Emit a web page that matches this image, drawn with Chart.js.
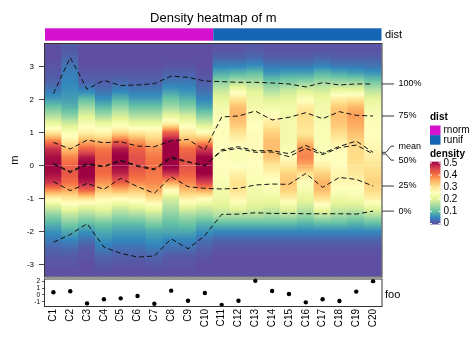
<!DOCTYPE html>
<html>
<head>
<meta charset="utf-8">
<script src="https://cdn.jsdelivr.net/npm/chart.js@4.4.1/dist/chart.umd.min.js"></script>
<style>
  html, body { margin: 0; padding: 0; background: #fff; }
  #wrap { position: relative; width: 474px; height: 338px; }
  #wrap canvas { position: absolute; left: 0; top: 0; }
</style>
</head>
<body>
<div id="wrap">
  <canvas id="heat" width="474" height="338"></canvas>
  <canvas id="foo" width="474" height="338"></canvas>
</div>
<script>
// ---- data -------------------------------------------------------------
const columns = ['C1','C2','C3','C4','C5','C6','C7','C8','C9','C10',
                 'C11','C12','C13','C14','C15','C16','C17','C18','C19','C20'];
const distGroup = ['rnorm','rnorm','rnorm','rnorm','rnorm','rnorm','rnorm','rnorm','rnorm','rnorm',
                   'runif','runif','runif','runif','runif','runif','runif','runif','runif','runif'];
const distLevels = ['rnorm', 'runif'];
const distColors = { rnorm: '#D412CE', runif: '#1565B4' };

// value range covered by the density estimates
const mRange = [-3.36, 3.68];
const mTicks = [-3, -2, -1, 0, 1, 2, 3];

// grid of m values where each column's density was evaluated
const densityGridM = [-3.25, -3.0, -2.75, -2.5, -2.25, -2.0, -1.75, -1.5, -1.25, -1.0,
                      -0.75, -0.5, -0.25, 0, 0.25, 0.5, 0.75, 1.0, 1.25, 1.5,
                      1.75, 2.0, 2.25, 2.5, 2.75, 3.0, 3.25, 3.5];

// density per column (one row per column, bottom to top along densityGridM)
const columnDensity = [
  [0,.005,.01,.02,.04,.06,.09,.13,.19,.27,.38,.47,.50,.51,.50,.47,.39,.29,.22,.16,.11,.07,.04,.02,.01,.005,0,0],
  [0,.005,.01,.025,.05,.08,.12,.17,.23,.29,.36,.41,.43,.42,.39,.34,.28,.24,.19,.13,.09,.07,.06,.05,.045,.035,.02,.01],
  [0,0,.005,.01,.03,.06,.10,.15,.21,.30,.42,.49,.52,.52,.49,.42,.35,.28,.24,.20,.15,.10,.05,.02,.01,0,0,0],
  [0,.01,.02,.04,.06,.08,.11,.17,.22,.27,.33,.38,.41,.42,.42,.40,.34,.27,.22,.15,.10,.06,.03,.015,.01,0,0,0],
  [0,.005,.015,.03,.05,.07,.10,.14,.19,.26,.35,.43,.48,.51,.52,.49,.41,.31,.24,.19,.14,.09,.05,.025,.01,0,0,0],
  [0,.005,.015,.03,.05,.07,.10,.15,.21,.27,.33,.39,.42,.44,.44,.42,.37,.29,.22,.16,.11,.07,.04,.02,.01,0,0,0],
  [0,.01,.02,.04,.06,.08,.12,.17,.23,.30,.36,.39,.40,.41,.40,.38,.33,.28,.22,.16,.11,.07,.04,.02,.01,0,0,0],
  [0,.005,.01,.03,.05,.08,.10,.13,.16,.19,.26,.37,.47,.52,.53,.53,.50,.42,.29,.21,.15,.11,.07,.04,.02,.005,0,0],
  [0,.005,.01,.03,.05,.08,.11,.15,.21,.28,.34,.39,.42,.44,.43,.41,.35,.29,.24,.19,.13,.09,.06,.04,.02,.005,0,0],
  [0,0,.005,.015,.03,.06,.09,.14,.19,.26,.36,.46,.51,.52,.51,.46,.36,.26,.19,.13,.08,.05,.03,.015,.005,0,0,0],
  [0,0,0,.005,.02,.05,.10,.16,.20,.22,.23,.24,.25,.25,.25,.25,.25,.25,.25,.24,.23,.21,.18,.14,.09,.05,.02,.005],
  [0,0,0,.005,.02,.05,.10,.16,.22,.27,.30,.30,.28,.25,.24,.25,.27,.30,.33,.35,.34,.30,.24,.17,.10,.05,.02,.005],
  [0,0,0,.005,.02,.05,.10,.16,.20,.22,.23,.24,.25,.25,.26,.26,.26,.26,.25,.24,.23,.22,.20,.16,.11,.06,.025,.01],
  [0,0,0,.005,.02,.05,.10,.15,.19,.22,.24,.25,.27,.30,.33,.34,.34,.32,.29,.26,.23,.20,.16,.12,.07,.04,.015,.005],
  [0,0,0,.005,.02,.05,.10,.16,.22,.28,.32,.33,.32,.29,.26,.24,.23,.23,.23,.23,.23,.21,.18,.13,.08,.04,.015,.005],
  [0,0,0,.005,.02,.05,.09,.14,.18,.21,.23,.25,.30,.36,.39,.38,.33,.29,.30,.31,.29,.25,.20,.14,.08,.04,.015,.005],
  [0,0,0,.005,.02,.05,.10,.17,.24,.30,.34,.35,.32,.28,.25,.24,.24,.24,.24,.23,.23,.22,.19,.15,.10,.05,.02,.005],
  [0,0,0,.005,.02,.05,.10,.15,.19,.22,.25,.27,.27,.26,.25,.26,.28,.31,.33,.34,.33,.29,.22,.15,.09,.04,.015,.005],
  [0,0,0,.005,.02,.05,.09,.14,.19,.23,.25,.27,.29,.30,.31,.31,.32,.34,.36,.37,.35,.30,.22,.15,.08,.04,.015,.005],
  [0,0,0,.005,.02,.05,.10,.16,.22,.28,.31,.32,.31,.30,.28,.27,.26,.25,.25,.24,.23,.21,.17,.12,.07,.035,.015,.005]
];

// per-column summaries
const q100    = [2.18, 3.27, 2.31, 2.58, 2.42, 2.44, 2.48, 2.71, 2.67, 2.56, 2.54, 2.52, 2.52, 2.50, 2.47, 2.38, 2.51, 2.44, 2.47, 2.47];
const q75     = [0.70, 0.50, 0.77, 0.69, 0.72, 0.59, 0.57, 0.75, 0.79, 0.47, 1.47, 1.50, 1.65, 1.38, 1.46, 1.60, 1.42, 1.63, 1.52, 1.50];
const colMean = [0.06, -0.18, 0.06, -0.02, 0.16, 0.00, -0.10, 0.26, 0.12, -0.01, 0.48, 0.57, 0.45, 0.45, 0.36, 0.61, 0.37, 0.58, 0.74, 0.40];
const q50     = [0.04, -0.21, 0.03, -0.04, 0.14, -0.03, -0.13, 0.22, 0.10, 0.00, 0.44, 0.52, 0.40, 0.41, 0.27, 0.52, 0.33, 0.54, 0.62, 0.35];
const q25     = [-0.49, -0.76, -0.54, -0.72, -0.39, -0.64, -0.84, -0.34, -0.64, -0.69, -0.71, -0.69, -0.59, -0.56, -0.57, -0.24, -0.66, -0.36, -0.42, -0.62];
const q0      = [-2.32, -2.09, -1.76, -2.47, -2.66, -2.77, -2.74, -2.22, -2.52, -2.12, -1.48, -1.47, -1.43, -1.45, -1.45, -1.46, -1.46, -1.46, -1.47, -1.38];

// bottom annotation
const fooValues = [0.40, 0.54, -1.22, -0.63, -0.49, -0.15, -1.28, 0.63, -0.84, 0.29,
                   -1.43, -0.84, 2.06, 0.59, 0.15, -1.07, -0.63, -0.88, 0.49, 2.01];
const fooRange = [-1.6, 2.25];
const fooTicks = [-1, 0, 1, 2];

// density colour scale
const densityMax = 0.51;
const densityTicks = [0, 0.1, 0.2, 0.3, 0.4, 0.5];
const spectralRev = ['#5E4FA2','#3288BD','#66C2A5','#ABDDA4','#E6F598','#FFFFBF',
                     '#FEE08B','#FDAE61','#F46D43','#D53E4F','#9E0142'];

// ---- helpers ----------------------------------------------------------
const FONT = "'Liberation Sans', Arial, Helvetica, sans-serif";
Chart.defaults.font.family = FONT;
Chart.defaults.color = '#000';

function hexRgb(h) {
  return [parseInt(h.slice(1, 3), 16), parseInt(h.slice(3, 5), 16), parseInt(h.slice(5, 7), 16)];
}
const spectralRgb = spectralRev.map(hexRgb);

function densityColor(v) {
  const n = spectralRgb.length - 1;
  const t = Math.max(0, Math.min(1, v / densityMax)) * n;
  const i = Math.min(Math.floor(t), n - 1);
  const f = t - i;
  const a = spectralRgb[i], b = spectralRgb[i + 1];
  const c = a.map((ch, k) => Math.round(ch + (b[k] - ch) * f));
  return `rgb(${c[0]},${c[1]},${c[2]})`;
}

// segment edges along m: range start, grid points, range end
const segEdges = [mRange[0], ...densityGridM, mRange[1]];
function edgeDensity(col, e) {
  const k = Math.max(0, Math.min(densityGridM.length - 1, e - 1));
  return columnDensity[col][k];
}

function segmentFill(ctx, s) {
  if (ctx.type !== 'data') return densityColor(0);
  const chart = ctx.chart;
  const col = ctx.dataIndex;
  const d0 = edgeDensity(col, s), d1 = edgeDensity(col, s + 1);
  const y = chart.scales.y;
  if (!chart.chartArea || !y) return densityColor((d0 + d1) / 2);
  const p0 = y.getPixelForValue(segEdges[s]);
  const p1 = y.getPixelForValue(segEdges[s + 1]);
  if (!isFinite(p0) || !isFinite(p1) || p0 === p1) return densityColor((d0 + d1) / 2);
  const g = chart.ctx.createLinearGradient(0, p0, 0, p1);
  for (let t = 0; t <= 4; t++) g.addColorStop(t / 4, densityColor(d0 + (d1 - d0) * t / 4));
  return g;
}

// ---- heatmap ----------------------------------------------------------
const heatSets = [];
for (let s = 0; s < segEdges.length - 1; s++) {
  heatSets.push({
    type: 'bar',
    order: 2,
    data: columns.map(() => [segEdges[s], segEdges[s + 1]]),
    backgroundColor: (ctx) => segmentFill(ctx, s),
    borderWidth: 0,
    inflateAmount: 0.5,
    barPercentage: 1,
    categoryPercentage: 1,
    grouped: false
  });
}

const dashed = {
  type: 'line', order: 0, borderColor: '#111', borderWidth: 1, borderDash: [5, 3],
  pointRadius: 0, fill: false, tension: 0
};
const lineSets = [
  { ...dashed, label: '100%', data: q100 },
  { ...dashed, label: '75%', data: q75 },
  { ...dashed, label: 'mean', data: colMean },
  { ...dashed, label: '50%', data: q50 },
  { ...dashed, label: '25%', data: q25 },
  { ...dashed, label: '0%', data: q0 }
];

const heatDecor = {
  id: 'heatDecor',
  afterDatasetsDraw(chart) {
    const { ctx, chartArea: a, scales: { x, y } } = chart;
    ctx.save();

    // body border
    ctx.strokeStyle = '#333';
    ctx.lineWidth = 1;
    ctx.strokeRect(a.left - 0.5, a.top - 0.5, a.right - a.left + 1, a.bottom - a.top + 1);

    // title
    ctx.fillStyle = '#000';
    ctx.font = `13px ${FONT}`;
    ctx.textAlign = 'center';
    ctx.textBaseline = 'alphabetic';
    ctx.fillText('Density heatmap of m', (a.left + a.right) / 2, 21.7);

    // dist annotation row
    const step = x.getPixelForValue(1) - x.getPixelForValue(0);
    let start = 0;
    for (let i = 1; i <= columns.length; i++) {
      if (i === columns.length || distGroup[i] !== distGroup[start]) {
        const x0 = x.getPixelForValue(start) - step / 2;
        const x1 = x.getPixelForValue(i - 1) + step / 2;
        ctx.fillStyle = distColors[distGroup[start]];
        ctx.fillRect(x0, 28.3, x1 - x0, 12.4);
        start = i;
      }
    }
    ctx.fillStyle = '#000';
    ctx.font = `11px ${FONT}`;
    ctx.textAlign = 'left';
    ctx.textBaseline = 'middle';
    ctx.fillText('dist', a.right + 3.5, 34.5);

    // quantile labels at the right end of the lines
    const last = columns.length - 1;
    const marks = lineSets.map(d => ({ text: d.label, py: y.getPixelForValue(d.data[last]) }));
    marks.forEach(m => { m.ly = m.py; });
    marks.sort((p, q) => p.py - q.py);
    for (let pass = 0; pass < 30; pass++) {
      for (let i = 1; i < marks.length; i++) {
        const gap = marks[i].ly - marks[i - 1].ly;
        if (gap < 14) {
          const d = (14 - gap) / 2;
          marks[i].ly += d;
          marks[i - 1].ly -= d;
        }
      }
    }
    ctx.strokeStyle = '#222';
    ctx.lineWidth = 0.9;
    ctx.font = `9px ${FONT}`;
    marks.forEach(m => {
      ctx.beginPath();
      ctx.moveTo(a.right + 0.5, m.py);
      ctx.lineTo(a.right + 4.5, m.py);
      ctx.lineTo(a.right + 9.5, m.ly);
      ctx.lineTo(a.right + 12.5, m.ly);
      ctx.stroke();
      ctx.fillText(m.text, a.right + 17, m.ly);
    });

    // legends
    const lx = 430;
    ctx.font = `bold 10px ${FONT}`;
    ctx.fillText('dist', lx, 117);
    distLevels.forEach((lev, i) => {
      ctx.fillStyle = distColors[lev];
      ctx.fillRect(lx, 125.5 + i * 9.6, 10.5, 9.6);
      ctx.fillStyle = '#000';
      ctx.font = `10px ${FONT}`;
      ctx.fillText(lev, lx + 13.5, 130.5 + i * 9.6);
    });
    ctx.font = `bold 10px ${FONT}`;
    ctx.fillText('density', lx, 154.5);

    const barY = v => 223.5 - v * 121.2;
    const top = barY(densityMax), bottom = barY(0) + 1;
    const g = ctx.createLinearGradient(0, barY(0), 0, top);
    for (let t = 0; t <= 20; t++) g.addColorStop(t / 20, densityColor(densityMax * t / 20));
    ctx.fillStyle = g;
    ctx.fillRect(lx, top, 10.5, bottom - top);
    ctx.strokeStyle = '#fff';
    ctx.lineWidth = 1;
    ctx.fillStyle = '#000';
    ctx.font = `10px ${FONT}`;
    densityTicks.forEach(v => {
      const py = barY(v);
      ctx.beginPath();
      ctx.moveTo(lx, py); ctx.lineTo(lx + 2, py);
      ctx.moveTo(lx + 8.5, py); ctx.lineTo(lx + 10.5, py);
      ctx.stroke();
      ctx.fillText(String(v), lx + 13.5, py);
    });

    ctx.restore();
  }
};

new Chart(document.getElementById('heat'), {
  type: 'bar',
  data: { labels: columns, datasets: [...lineSets, ...heatSets] },
  options: {
    responsive: false,
    animation: false,
    devicePixelRatio: 1,
    events: [],
    layout: { padding: { top: 44, right: 92.5, bottom: 61.5, left: 0 } },
    plugins: { legend: { display: false }, tooltip: { enabled: false } },
    scales: {
      x: { type: 'category', display: false, offset: true },
      y: {
        type: 'linear',
        min: mRange[0],
        max: mRange[1],
        afterBuildTicks(s) { s.ticks = mTicks.map(v => ({ value: v })); },
        afterFit(s) { s.width = 45; },
        border: { display: false },
        grid: { drawOnChartArea: false, drawTicks: true, tickLength: 6, color: '#333', lineWidth: 0.9 },
        ticks: { font: { size: 8 }, color: '#000', padding: 5, autoSkip: false, callback: v => String(v) },
        title: { display: true, text: 'm', font: { size: 11 }, color: '#000', padding: { top: 8, bottom: 0 } }
      }
    }
  },
  plugins: [heatDecor]
});

// ---- bottom point annotation -----------------------------------------
const fooDecor = {
  id: 'fooDecor',
  afterDatasetsDraw(chart) {
    const { ctx, chartArea: a } = chart;
    ctx.save();
    ctx.strokeStyle = '#333';
    ctx.lineWidth = 1;
    ctx.strokeRect(a.left - 0.5, a.top - 0.5, a.right - a.left + 1, a.bottom - a.top + 1);
    ctx.fillStyle = '#000';
    ctx.font = `11px ${FONT}`;
    ctx.textAlign = 'left';
    ctx.textBaseline = 'alphabetic';
    ctx.fillText('foo', a.right + 3.5, 297.5);
    ctx.restore();
  }
};

new Chart(document.getElementById('foo'), {
  type: 'line',
  data: {
    labels: columns,
    datasets: [{
      data: fooValues, showLine: false, clip: false,
      pointRadius: 2.2, pointBackgroundColor: '#000', pointBorderColor: '#000', pointBorderWidth: 0
    }]
  },
  options: {
    responsive: false,
    animation: false,
    devicePixelRatio: 1,
    events: [],
    layout: { padding: { top: 279.5, right: 92.5, bottom: 0, left: 0 } },
    plugins: { legend: { display: false }, tooltip: { enabled: false } },
    scales: {
      x: {
        type: 'category', offset: true,
        grid: { display: false, drawTicks: false }, border: { display: false },
        ticks: { autoSkip: false, minRotation: 90, maxRotation: 90, padding: 3, font: { size: 10 }, color: '#000' },
        afterFit(s) { s.height = 32; }
      },
      y: {
        type: 'linear', min: fooRange[0], max: fooRange[1],
        afterBuildTicks(s) { s.ticks = fooTicks.map(v => ({ value: v })); },
        afterFit(s) { s.width = 45; },
        border: { display: false },
        grid: { drawOnChartArea: false, drawTicks: true, tickLength: 3, color: '#333', lineWidth: 0.8 },
        ticks: { font: { size: 6.5 }, color: '#000', padding: 2, autoSkip: false, callback: v => String(v) }
      }
    }
  },
  plugins: [fooDecor]
});
</script>
</body>
</html>
